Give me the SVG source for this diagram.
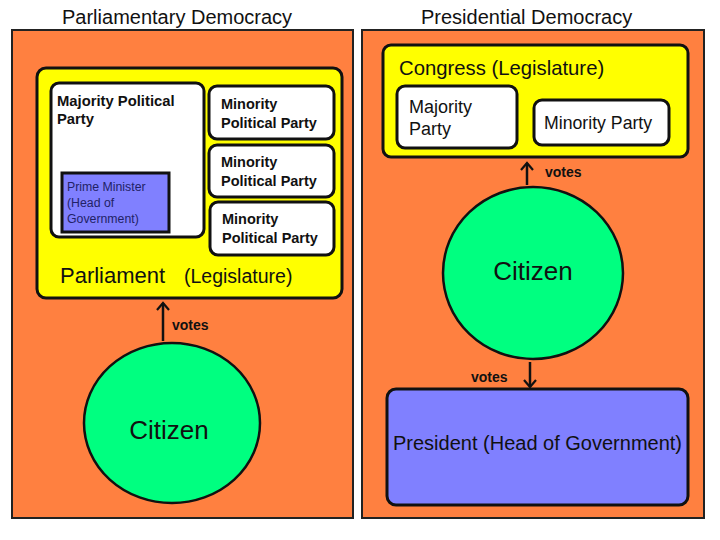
<svg xmlns="http://www.w3.org/2000/svg" width="720" height="540" viewBox="0 0 720 540">
<defs>
<style>
text{font-family:"Liberation Sans",Arial,sans-serif;fill:#111}
.panel{fill:#ff8040;stroke:#222;stroke-width:2}
.yel{fill:#ffff00;stroke:#111;stroke-width:3}
.wht{fill:#fff;stroke:#111;stroke-width:3}
.blu{fill:#8080ff;stroke:#111;stroke-width:3}
.grn{fill:#00ff80;stroke:#111;stroke-width:2.5}
.title{font-size:20px}
.b{font-weight:bold}
.conn line{stroke:#111;stroke-width:2.5}
</style>
<marker id="ah" viewBox="0 0 12 14" refX="10" refY="7" markerWidth="12" markerHeight="14" markerUnits="userSpaceOnUse" orient="auto">
<path d="M3,1 L10,7 L3,13" fill="none" stroke="#111" stroke-width="2.2"/>
</marker>
</defs>
<rect width="720" height="540" fill="#fff"/>
<text class="title" x="62" y="24">Parliamentary Democracy</text>
<text class="title" x="421" y="24">Presidential Democracy</text>

<g id="parliamentary-panel">
<rect class="panel" x="12" y="30" width="341" height="488"/>
</g>
<g id="presidential-panel">
<rect class="panel" x="362" y="30" width="342" height="488"/>
</g>

<g id="parliament">
<rect class="yel" x="37" y="68" width="305" height="230" rx="9"/>
<text x="60" y="283" font-size="22">Parliament</text>
<text x="184" y="283" font-size="19.5">(Legislature)</text>
</g>
<g id="majority-political-party">
<rect class="wht" x="51" y="83" width="153" height="154" rx="8"/>
<text class="b" x="57" y="106" font-size="14.8">Majority Political</text>
<text class="b" x="57" y="124" font-size="14.8">Party</text>
</g>
<g id="prime-minister">
<rect class="blu" x="62" y="173" width="107" height="59"/>
<text x="67" y="191" font-size="12.3" style="fill:#222266">Prime Minister</text>
<text x="67" y="207" font-size="12.3" style="fill:#222266">(Head of</text>
<text x="67" y="223" font-size="12.3" style="fill:#222266">Government)</text>
</g>
<g id="minority-party-1">
<rect class="wht" x="209" y="86" width="125" height="53" rx="8"/>
<text class="b" x="221" y="109" font-size="14.5">Minority</text>
<text class="b" x="221" y="128" font-size="14.5">Political Party</text>
</g>
<g id="minority-party-2">
<rect class="wht" x="209" y="145" width="125" height="52" rx="8"/>
<text class="b" x="221" y="167" font-size="14.5">Minority</text>
<text class="b" x="221" y="186" font-size="14.5">Political Party</text>
</g>
<g id="minority-party-3">
<rect class="wht" x="210" y="202" width="124" height="53" rx="8"/>
<text class="b" x="222" y="224" font-size="14.5">Minority</text>
<text class="b" x="222" y="243" font-size="14.5">Political Party</text>
</g>
<g id="citizen-left">
<ellipse class="grn" cx="172" cy="423" rx="88" ry="80"/>
<text x="169" y="439" font-size="26" text-anchor="middle">Citizen</text>
</g>

<g id="congress">
<rect class="yel" x="383" y="45" width="305" height="112" rx="8"/>
<text x="399" y="75" font-size="20.3">Congress (Legislature)</text>
</g>
<g id="majority-party">
<rect class="wht" x="397" y="86" width="120" height="62" rx="8"/>
<text x="409" y="113" font-size="18">Majority</text>
<text x="409" y="135" font-size="18">Party</text>
</g>
<g id="minority-party">
<rect class="wht" x="534" y="100" width="135" height="45" rx="8"/>
<text x="544" y="129" font-size="17.7">Minority Party</text>
</g>
<g id="citizen-right">
<ellipse class="grn" cx="533" cy="273" rx="90" ry="86"/>
<text x="533" y="280" font-size="26" text-anchor="middle">Citizen</text>
</g>
<g id="president">
<rect class="blu" x="387" y="389" width="301" height="116" rx="9"/>
<text x="537.5" y="450" font-size="20" text-anchor="middle">President (Head of Government)</text>
</g>

<g class="conn" id="connectors">
<line x1="163" y1="341" x2="163" y2="303" marker-end="url(#ah)"/>
<text class="b" x="172" y="330" font-size="14">votes</text>
<line x1="527" y1="185" x2="527" y2="163" marker-end="url(#ah)"/>
<text class="b" x="545" y="177" font-size="14">votes</text>
<line x1="530" y1="362" x2="530" y2="387" marker-end="url(#ah)"/>
<text class="b" x="471" y="382" font-size="14">votes</text>
</g>
</svg>
